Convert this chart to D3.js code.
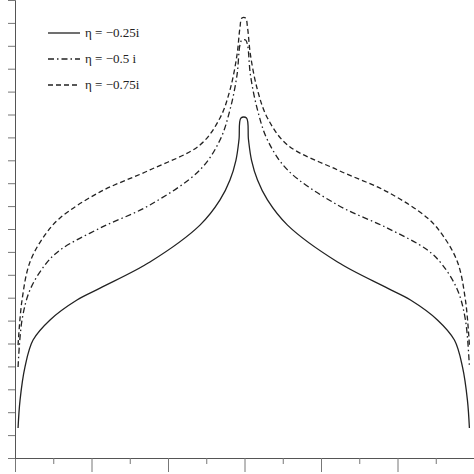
<!DOCTYPE html>
<html><head><meta charset="utf-8"><script src="https://cdn.jsdelivr.net/npm/d3@7"></script>
<style>body{margin:0;background:#fff}</style></head><body><svg id="c" width="474" height="474"></svg>
<script>
const labels = ["η = −0.25i", "η = −0.5 i", "η = −0.75i"];
const dashes = [null, "6,3,1.5,3", "5,3"];
const xSolid = [0.2,0.33,0.65,1.18,2.29,4.05,5.56,8.82,12.09,13.4,14.05,14.44,14.64,14.77,15.13,15.26,15.46,15.85,16.5,17.81,21.08,24.34,25.85,27.61,28.72,29.25,29.57,29.7];
const ySolid = [1.31,2.53,3.97,5.15,6.03,6.9,7.42,8.56,10.17,11.27,12.14,13.0,13.9,14.85,14.85,13.9,13.0,12.14,11.27,10.17,8.56,7.42,6.9,6.03,5.15,3.97,2.53,1.31];
const xDD = [0.2,0.46,0.98,1.96,2.94,5.56,8.82,12.09,13.4,14.05,14.51,14.7,14.83,15.07,15.2,15.39,15.85,16.5,17.81,21.08,24.34,26.96,27.94,28.92,29.44,29.7];
const yDD = [3.97,6.03,7.34,8.43,9.08,10.04,11.05,12.58,13.89,15.2,16.72,18.03,18.25,18.25,18.03,16.72,15.2,13.89,12.58,11.05,10.04,9.08,8.43,7.34,6.03,3.97];
const xDa = [0.2,0.46,0.98,1.96,2.94,5.56,8.82,12.09,13.4,14.05,14.51,14.7,14.83,15.07,15.2,15.39,15.85,16.5,17.81,21.08,24.34,26.96,27.94,28.92,29.44,29.7];
const yDa = [4.93,6.9,8.56,9.74,10.48,11.62,12.58,13.67,14.85,16.07,17.6,18.78,19.21,19.21,18.78,17.6,16.07,14.85,13.67,12.58,11.62,10.48,9.74,8.56,6.9,4.93];
const series = [[xSolid,ySolid],[xDD,yDD],[xDa,yDa]];
const svg = d3.select("#c");
const x = d3.scaleLinear().domain([0,30]).range([15,474]);
const y = d3.scaleLinear().domain([0,20]).range([458,0]);
svg.append("g").attr("transform","translate(0,458)").call(d3.axisBottom(x).tickValues(d3.range(0,31,5)).tickSize(14).tickFormat(""))
  .call(a=>a.select(".domain").attr("stroke","#555"));
svg.append("g").attr("transform","translate(0,458)").call(d3.axisBottom(x).tickValues(d3.range(2.5,31,5)).tickSize(6).tickFormat(""))
  .call(a=>a.select(".domain").remove());
svg.append("g").attr("transform","translate(15,0)").call(d3.axisLeft(y).tickValues(d3.range(0,21,1)).tickSize(7).tickFormat(""))
  .call(a=>a.select(".domain").attr("stroke","#555"));
svg.selectAll(".tick line").attr("stroke","#777");
const line = d3.line().curve(d3.curveCatmullRom);
series.forEach((s,i)=>{
  const pts = s[0].map((v,j)=>[x(v), y(s[1][j])]);
  svg.append("path").attr("d",line(pts)).attr("fill","none").attr("stroke","#222").attr("stroke-width",1.3)
    .attr("stroke-dasharray",dashes[i]);
});
labels.forEach((t,i)=>{
  const yy = 33 + i*26;
  svg.append("line").attr("x1",48).attr("x2",80).attr("y1",yy).attr("y2",yy).attr("stroke","#222").attr("stroke-width",1.3).attr("stroke-dasharray",dashes[i]);
  svg.append("text").attr("x",85).attr("y",yy+4).attr("font-family","Liberation Serif").attr("font-size",13).attr("fill","#222").text(t);
});
</script></body></html>
